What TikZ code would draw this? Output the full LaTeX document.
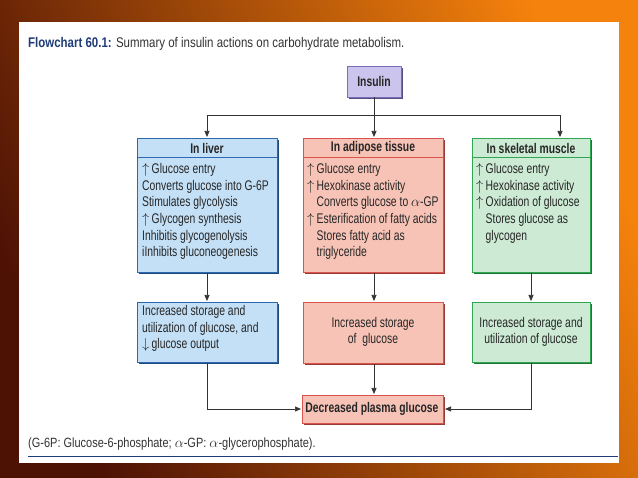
\documentclass[tikz,border=0pt]{standalone}
\usepackage{fontspec}
\setmainfont{Liberation Sans}[FakeStretch=0.74]
\newfontfamily\titlefont{Liberation Sans}[FakeStretch=0.82]
\usetikzlibrary{arrows.meta}
\definecolor{bgdark}{HTML}{4E1205}
\definecolor{bgor}{HTML}{F5820C}
\definecolor{lvf}{HTML}{C4E0F6}\definecolor{lvb}{HTML}{2E68B0}
\definecolor{adf}{HTML}{F7C3B6}\definecolor{adb}{HTML}{D8544C}
\definecolor{msf}{HTML}{CDEAD4}\definecolor{msb}{HTML}{2FA650}
\definecolor{inf}{HTML}{CBC4EC}\definecolor{inb}{HTML}{7B6DB8}
\definecolor{ttl}{HTML}{1F3C78}
\tikzset{
  x=1pt,y=-1pt,
  box/.style={draw=#1b,fill=#1f,line width=0.9pt},
  shad/.style={fill=#1b!70!black},
  arr/.style={line width=0.7pt,draw=black!80,-{Triangle[length=6pt,width=5pt]}},
  ln/.style={line width=0.7pt,draw=black!80},
  txt/.style={font=\fontsize{14}{16.7}\selectfont,align=left,anchor=north west,inner sep=0pt,text=black!85},
  hd/.style={font=\fontsize{14}{15}\selectfont\bfseries,inner sep=0pt,text=black!85},
}
\newcommand{\up}{$\uparrow$\,}
\newcommand{\mybox}[6]{% name, color, x1,y1,x2,y2
  \fill[shad=#2] (#3+2,#4+2) rectangle (#5+2,#6+2);
  \draw[box=#2] (#3,#4) rectangle (#5,#6);
  \coordinate (#1-nw) at (#3,#4);
}
\begin{document}
\begin{tikzpicture}
\shade[shading=axis,left color=bgdark,right color=bgor,shading angle=115] (0,0) rectangle (638,478);
\useasboundingbox (0,0) rectangle (638,478);
\fill[white] (19,22) rectangle (619,463);
\node[anchor=base west,inner sep=0pt,font=\titlefont\fontsize{14}{15}\selectfont,text=black!80] (title) at (28,48) {\textcolor{ttl}{\bfseries Flowchart 60.1:} Summary of insulin actions on carbohydrate metabolism.};
\draw[line width=0.6pt,ttl] (28,456) -- (618,456);
\node[anchor=base west,inner sep=0pt,font=\titlefont\fontsize{13.4}{15}\selectfont,text=black!80] (foot) at (28,448) {(G-6P: Glucose-6-phosphate; $\alpha$-GP: $\alpha$-glycerophosphate).};
% insulin
\mybox{ins}{in}{347}{66}{401}{97}
\node[hd] (insulin) at (374,81) {Insulin};
% boxes row1
\mybox{lv}{lv}{137}{138}{277}{272}
\mybox{ad}{ad}{303}{138}{443}{272}
\mybox{ms}{ms}{472}{138}{590}{272}
\draw[lvb,line width=0.8pt] (137,157)--(277,157);
\draw[adb,line width=0.8pt] (303,157)--(443,157);
\draw[msb,line width=0.8pt] (472,157)--(590,157);
\node[hd] (liver) at (207,148) {In liver};
\node[hd] (adipose) at (373,148) {In adipose tissue};
\node[hd] (muscle) at (531,148) {In skeletal muscle};
\node[txt] (lvt) at (142,163) {\up Glucose entry\\Converts glucose into G-6P\\Stimulates glycolysis\\\up Glycogen synthesis\\Inhibitis glycogenolysis\\iInhibits gluconeogenesis};
\node[txt] (adt) at (307,163) {\up Glucose entry\\\up Hexokinase activity\\\hphantom{\up}Converts glucose to $\alpha$-GP\\\up Esterification of fatty acids\\\hphantom{\up}Stores fatty acid as\\\hphantom{\up}triglyceride};
\node[txt] (mst) at (476,163) {\up Glucose entry\\\up Hexokinase activity\\\up Oxidation of glucose\\\hphantom{\up}Stores glucose as\\\hphantom{\up}glycogen};
% row2
\mybox{lv2}{lv}{137}{302}{277}{362}
\mybox{ad2}{ad}{303}{302}{443}{363}
\mybox{ms2}{ms}{472}{302}{590}{362}
\node[txt] (lvb) at (142,305) {Increased storage and\\utilization of glucose, and\\$\downarrow$\,glucose output};
\node[txt,anchor=center,align=center] (adb) at (373,332) {Increased storage\\of\ \ glucose};
\node[txt,anchor=center,align=center] (msb) at (531,332) {Increased storage and\\utilization of glucose};
\mybox{dec}{ad}{302}{395}{443}{423}
\node[hd] (dec) at (372,409) {Decreased plasma glucose};
% connectors
\coordinate (j) at (374,115);
\coordinate (jl) at (207,115);
\coordinate (jr) at (560,115);
\draw[ln] (374,97) -- (j);
\draw[ln] (jl) -- (jr);
\draw[arr] (jl) -- (207,137);
\draw[arr] (j) -- (374,137);
\draw[arr] (jr) -- (560,137);
\draw[arr] (207,273) -- (207,301);
\draw[arr] (374,273) -- (374,301);
\draw[arr] (531,273) -- (531,301);
\draw[arr] (374,364) -- (374,394);
\draw[arr] (207,363) |- (301,409);
\draw[arr] (531,363) |- (445,409);
\end{tikzpicture}
\end{document}
